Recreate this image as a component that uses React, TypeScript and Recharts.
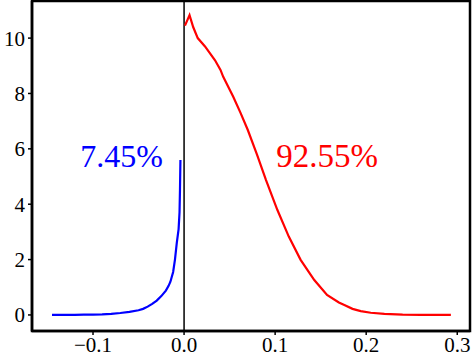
import { LineChart, Line, XAxis, YAxis, ReferenceLine, ReferenceDot, ReferenceArea } from "recharts";

// left (blue) branch: x, density
const BLUE_X = [-0.145, -0.13, -0.12, -0.11, -0.1, -0.09, -0.08, -0.07, -0.06, -0.05, -0.045, -0.04, -0.035, -0.03, -0.025, -0.02, -0.017, -0.015, -0.012, -0.01, -0.008, -0.006, -0.005, -0.0045, -0.004];
const BLUE_Y = [0, 0, 0.005, 0.01, 0.015, 0.02, 0.04, 0.07, 0.11, 0.17, 0.22, 0.3, 0.4, 0.52, 0.68, 0.88, 1.05, 1.2, 1.55, 2.0, 2.6, 3.1, 3.7, 4.5, 5.6];

// right (red) branch
const RED_X = [0.001, 0.006, 0.01, 0.015, 0.023, 0.034, 0.04, 0.043, 0.054, 0.062, 0.07, 0.08, 0.09, 0.1025, 0.115, 0.128, 0.143, 0.157, 0.17, 0.176, 0.185, 0.194, 0.205, 0.22, 0.24, 0.26, 0.293];
const RED_Y = [10.45, 10.83, 10.4, 10.0, 9.7, 9.2, 8.85, 8.6, 7.88, 7.3, 6.68, 5.8, 4.87, 3.79, 2.83, 1.99, 1.26, 0.72, 0.45, 0.36, 0.22, 0.14, 0.08, 0.04, 0.015, 0.005, 0];

const X_TICKS = [-0.1, 0, 0.1, 0.2, 0.3];
const Y_TICKS = [0, 2, 4, 6, 8, 10];

const LEFT_SHARE = "7.45%";
const RIGHT_SHARE = "92.55%";

const X_DOMAIN = [-0.167, 0.314];
const Y_DOMAIN = [-0.58, 11.34];

const blueData = BLUE_X.map((x, i) => ({ x, y: BLUE_Y[i] }));
const redData = RED_X.map((x, i) => ({ x, y: RED_Y[i] }));

const FONT = "Liberation Serif, Tinos, Times New Roman, Times, DejaVu Serif, serif";

const fmtX = (v: number) => {
  if (v === 0) return "0.0";
  return v < 0 ? "\u2212" + Math.abs(v).toFixed(1) : v.toFixed(1);
};

const tickStyle = { fill: "#000", fontSize: 21, style: { fontFamily: FONT } };

export default function App() {
  return (
    <div style={{ position: "absolute", left: 0, top: 0, background: "#fff", fontFamily: FONT }}>
      <LineChart width={474} height={360} margin={{ top: 1, right: 4, left: 0, bottom: 0 }} style={{ fontFamily: FONT }}>
        <XAxis
          dataKey="x"
          type="number"
          domain={X_DOMAIN}
          allowDataOverflow
          ticks={X_TICKS}
          tickFormatter={fmtX}
          height={29}
          tick={tickStyle}
          tickSize={4}
          tickMargin={2}
          axisLine={{ stroke: "#000", strokeWidth: 2.5 }}
          tickLine={{ stroke: "#000", strokeWidth: 1.5 }}
        />
        <YAxis
          type="number"
          domain={Y_DOMAIN}
          allowDataOverflow
          ticks={Y_TICKS}
          width={32}
          tick={tickStyle}
          tickSize={4}
          tickMargin={3}
          axisLine={{ stroke: "#000", strokeWidth: 2.5 }}
          tickLine={{ stroke: "#000", strokeWidth: 1.5 }}
        />
        <ReferenceArea
          x1={X_DOMAIN[0]}
          x2={X_DOMAIN[1]}
          y1={Y_DOMAIN[0]}
          y2={Y_DOMAIN[1]}
          fill="none"
          fillOpacity={0}
          stroke="#000"
          strokeWidth={2.5}
          ifOverflow="visible"
        />
        <ReferenceLine x={0} stroke="#000" strokeWidth={1.5} />
        <Line data={blueData} dataKey="y" type="linear" stroke="#0000ff" strokeWidth={2.2} dot={false} isAnimationActive={false} />
        <Line data={redData} dataKey="y" type="linear" stroke="#ff0000" strokeWidth={2.2} dot={false} isAnimationActive={false} />
        <ReferenceDot
          x={-0.0687}
          y={5.76}
          r={0}
          stroke="none"
          label={{ value: LEFT_SHARE, position: "center", fill: "#0000ff", fontSize: 32, style: { fontFamily: FONT } }}
        />
        <ReferenceDot
          x={0.157}
          y={5.76}
          r={0}
          stroke="none"
          label={{ value: RIGHT_SHARE, position: "center", fill: "#ff0000", fontSize: 33, style: { fontFamily: FONT } }}
        />
      </LineChart>
    </div>
  );
}
